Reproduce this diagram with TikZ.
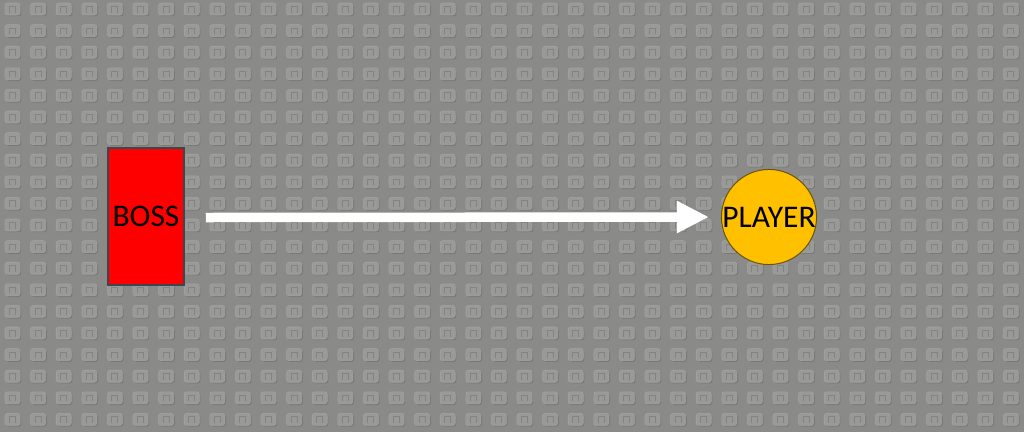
\documentclass[tikz,border=0pt]{standalone}
\usepackage{fontspec}
\setmainfont{Carlito}
\usetikzlibrary{arrows.meta}
\definecolor{bg}{HTML}{8A8A88}
\definecolor{tilefill}{HTML}{999997}
\definecolor{tilelight}{HTML}{A3A3A1}
\definecolor{tileshadow}{HTML}{787876}
\definecolor{tilemark}{HTML}{838381}
\definecolor{bossred}{HTML}{FF0000}
\definecolor{bossborder}{HTML}{3A4650}
\definecolor{playeryellow}{HTML}{FFC000}
\definecolor{playerborder}{HTML}{6B5410}
\tikzset{
  bossbox/.style={draw=bossborder, line width=1.5pt, fill=bossred, minimum width=76pt, minimum height=137pt, inner sep=0pt, font=\fontsize{31.5}{36}\selectfont},
  playercircle/.style={circle, draw=playerborder, line width=1pt, fill=playeryellow, minimum size=94pt, inner sep=0pt, font=\fontsize{31.5}{36}\selectfont},
  bigarrow/.style={draw=white, line width=9.5pt, -{Triangle[length=32pt,width=30pt]}, fill=white}
}
\begin{document}
\begin{tikzpicture}[x=1pt,y=-1pt]
\useasboundingbox (0,0) rectangle (1024,432);
\fill[bg] (0,0) rectangle (1024,432);
\foreach \i in {0,...,39}{
  \foreach \j in {0,...,19}{
    \pgfmathsetmacro{\xa}{5+25.6*\i}
    \pgfmathsetmacro{\ya}{3+21.6*\j}
    \fill[tileshadow, rounded corners=2.5pt] (\xa+1.2,\ya+1.2) rectangle ++(15,12);
    \fill[tilefill, draw=tilelight, line width=0.6pt, rounded corners=2.5pt] (\xa,\ya) rectangle ++(15,12);
    \draw[tilemark, line width=0.9pt] (\xa+4.5,\ya+9.5) -- (\xa+4.5,\ya+3.5) -- (\xa+10.5,\ya+3.5) -- (\xa+10.5,\ya+9.5);
  }
}
\node[bossbox] (boss) at (146,216.5) {BOSS};
\node[playercircle] (player) at (769,217) {PLAYER};
\draw[bigarrow] ([xshift=21pt,yshift=-1pt]boss.east) -- ([xshift=-12pt]player.west);
\end{tikzpicture}
\end{document}
